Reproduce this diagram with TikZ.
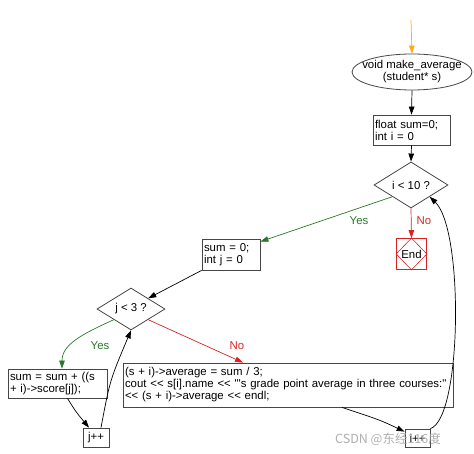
\documentclass[tikz,border=0pt]{standalone}
\usepackage{fontspec}
\setmainfont{Liberation Sans}[Ligatures=TeXOff]
\newfontfamily\cjkfont{Noto Sans CJK SC}
\usetikzlibrary{shapes.geometric,arrows.meta}
\definecolor{boxc}{RGB}{70,70,70}
\definecolor{yesc}{RGB}{40,120,40}
\definecolor{noc}{RGB}{215,35,35}
\definecolor{startc}{RGB}{255,170,20}
\tikzset{
  txt/.style={font=\fontsize{11.4}{12}\selectfont},
  box/.style={txt, draw=boxc, line width=0.8pt, rectangle, inner xsep=2pt, inner ysep=0pt, align=left},
  dia/.style={txt, draw=boxc, line width=0.8pt, diamond, inner sep=0pt},
  arr/.style={-{Triangle[length=8pt,width=5.5pt]}, line width=0.7pt},
}
\begin{document}
\begin{tikzpicture}[x=1pt,y=1pt]
\useasboundingbox (0,0) rectangle (474,-454);
% nodes
\coordinate (s0) at (411,-20);
\node[txt, draw=boxc, line width=0.8pt, ellipse, minimum width=120pt, minimum height=36pt, inner xsep=-8pt, inner ysep=0pt, align=center] (ell) at (412,-72) {void make\_average\\(student* s)};
\node[box, text width=73pt, minimum height=30pt] (b1) at (411.5,-130) {float sum=0;\\int i = 0};
\node[dia, minimum width=74pt, minimum height=34pt] (d1) at (411,-185) {i < 10 ?};
\node[txt, draw=noc, line width=0.7pt, minimum width=30pt, minimum height=31pt, inner sep=0pt] (end) at (411.5,-254) {End};
\node[box, text width=54pt, minimum height=31pt] (b2) at (231,-254.5) {sum = 0;\\int j = 0};
\node[dia, minimum width=68pt, minimum height=33pt] (d2) at (131,-309) {j < 3 ?};
\node[box, text width=95pt, minimum height=29pt] (b3) at (57.5,-383.5) {sum = sum + ((s\\+ i)->score[j]);};
\node[box, minimum width=26pt, minimum height=19pt, inner xsep=0pt] (jpp) at (96,-437.5) {j++};
\node[box, text width=326pt, minimum height=44pt] (b4) at (288,-385) {(s + i)->average = sum / 3;\\cout << s[i].name << "'s grade point average in three courses:"\\<< (s + i)->average << endl;};
\node[box, minimum width=25pt, minimum height=18pt, inner xsep=0pt] (ipp) at (417.5,-438) {i++};
% end inner diamond
\draw[noc, line width=0.6pt] (end.north) -- (end.east) -- (end.south) -- (end.west) -- cycle;
% connectors
\draw[arr, draw=startc, -{Triangle[length=8pt,width=5.5pt,fill=startc]}] (s0) -- (ell.north);
\draw[arr] (ell.south) -- (b1.north);
\draw[arr] (b1.south) -- (d1.north);
\draw[arr, yesc] (d1.south west) -- ([yshift=-3pt]b2.north east);
\node[txt, text=yesc] (yes1) at (359,-221) {Yes};
\draw[arr, noc] (d1.south) -- (end.north);
\node[txt, text=noc] (no1) at (424,-221) {No};
\draw[arr] (b2.south west) -- (d2.north east);
\draw[arr, yesc] (d2.south west) .. controls (80,-335) and (62,-345) .. (b3.north -| 62,0);
\node[txt, text=yesc] (yes2) at (100,-346) {Yes};
\draw[arr, noc] (d2.south east) -- (b4.north -| 243,0);
\node[txt, text=noc] (no2) at (237,-346) {No};
\draw[arr] ([xshift=10pt]b3.south) .. controls (76,-412) .. (jpp.north -| 89,0);
\draw[arr] (jpp.north -| 101,0) .. controls (110,-380) .. (d2.south);
\draw[arr] (b4.south -| 342,0) .. controls (380,-420) .. ([yshift=-3pt]ipp.north west);
\draw[arr] (ipp.north east) .. controls (462,-418) and (464,-230) .. (d1.south east);
% watermark
\node[font=\cjkfont\fontsize{12.5}{14}\selectfont, text=gray!70, opacity=0.9, anchor=west, inner sep=0pt] (wm) at (335,-439) {CSDN @东经116度};
\end{tikzpicture}
\end{document}
